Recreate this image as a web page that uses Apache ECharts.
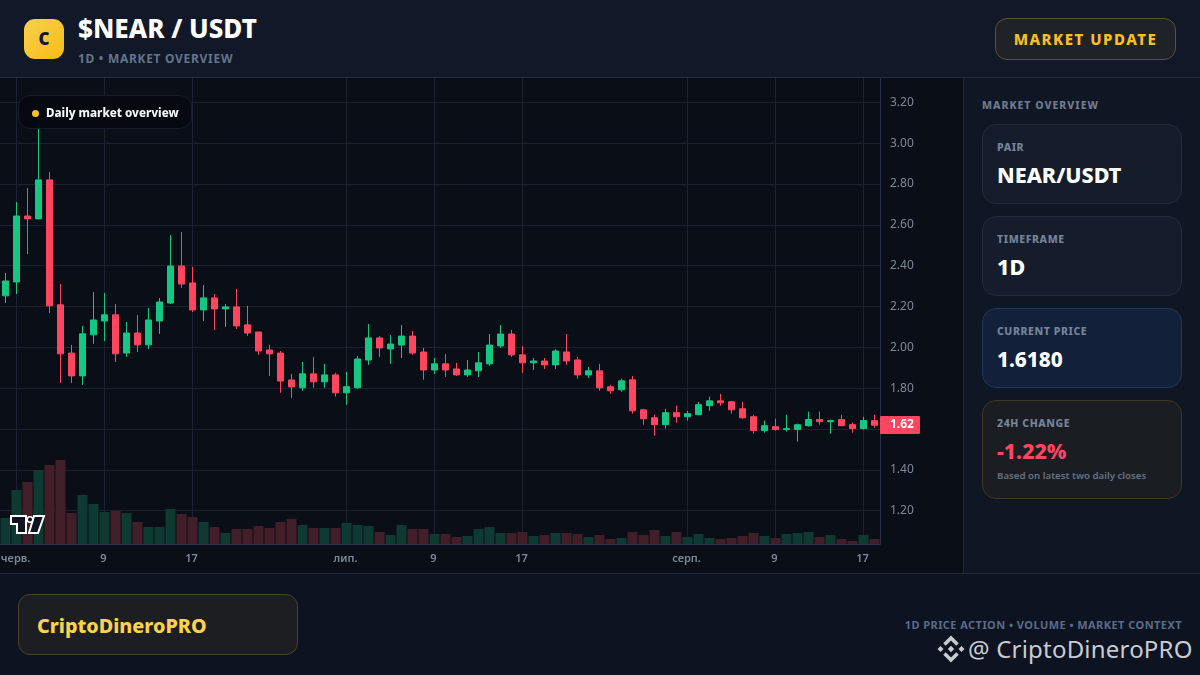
<!DOCTYPE html>
<html>
<head>
<meta charset="utf-8">
<script src="https://cdn.jsdelivr.net/npm/echarts@6/dist/echarts.min.js"></script>
<style>
*{box-sizing:border-box;margin:0;padding:0}
html,body{width:1200px;height:675px;overflow:hidden;background:#0d1320;font-family:"Noto Sans",sans-serif}
.abs{position:absolute;white-space:nowrap}
#header{left:0;top:0;width:1200px;height:78px;background:#111827;border-bottom:1px solid #222c3d}
#logo{left:24px;top:19px;width:40px;height:40px;border-radius:11px;background:linear-gradient(135deg,#f8cf50,#f7bd14);color:#111827;font-weight:900;font-size:17px;line-height:40px;text-align:center}
#title{left:78px;top:10px;font-size:26px;line-height:36px;font-weight:800;color:#fff}
#sub{left:78px;top:50px;font-size:12px;line-height:18px;font-weight:700;color:#64748b;letter-spacing:.7px}
#btn{left:995px;top:18px;width:181px;height:42px;border-radius:12px;background:#1f2227;border:1px solid #5f5230;color:#fbbf24;font-size:15px;font-weight:800;letter-spacing:1.5px;line-height:40px;text-align:center}
#plotbg{left:0;top:78px;width:963px;height:495px;background:#0a0e17}
#chart{left:0;top:78px;width:963px;height:495px}
#side{left:963px;top:78px;width:237px;height:495px;background:#0f1624;border-left:1px solid #1d2635}
#footer{left:0;top:573px;width:1200px;height:102px;background:#0d1320;border-top:1px solid #222c3d}
#legend{left:18px;top:95px;width:174px;height:34px;border-radius:12px;background:rgba(6,9,16,.92);border:1px solid #181f2c}
#dot{left:32px;top:110px;width:7px;height:7px;border-radius:50%;background:#fbbf24}
#legtxt{left:46px;top:104px;font-size:11.6px;line-height:18px;font-weight:800;color:#f3f5f8}
#sidehead{left:982px;top:98px;font-size:10.5px;line-height:14px;font-weight:800;letter-spacing:1px;color:#6f7c90}
.card{position:absolute;left:982px;width:200px;border-radius:14px;background:#151d2c;border:1px solid #212c3e}
.lab{position:absolute;left:997px;font-size:10.5px;line-height:14px;font-weight:800;letter-spacing:.6px;color:#77849a;white-space:nowrap}
.val{position:absolute;left:997px;font-size:21.5px;line-height:30px;font-weight:800;color:#fff;white-space:nowrap}
#badge{left:18px;top:594px;width:280px;height:61px;border-radius:12px;background:#1c1e22;border:1px solid #4c4227;color:#fcd34d;font-size:19.75px;font-weight:800;line-height:61px;padding-left:18px}
#foot{right:18px;top:617px;font-size:11px;line-height:16px;font-weight:700;letter-spacing:.44px;color:#5b6c8a}
#wm{left:968px;top:631px;font-size:24px;line-height:36px;color:#c8ccd2;letter-spacing:.2px}
</style>
</head>
<body>
<div class="abs" id="header"></div>
<div class="abs" id="logo">C</div>
<div class="abs" id="title">$NEAR / USDT</div>
<div class="abs" id="sub">1D • MARKET OVERVIEW</div>
<div class="abs" id="btn">MARKET UPDATE</div>
<div class="abs" id="plotbg"></div>
<div class="abs" id="chart"></div>
<div class="abs" id="legend"></div>
<div class="abs" id="dot"></div>
<div class="abs" id="legtxt">Daily market overview</div>
<svg class="abs" style="left:9px;top:514px" width="37" height="22" viewBox="0 0 37 22">
<path d="M2 2 H17 V19 H8 V10 H2 Z" fill="#0d1320" stroke="#fff" stroke-width="2"/>
<path d="M25 2 H35 L29 19 H20 Z" fill="#0d1320" stroke="#fff" stroke-width="2"/>
<circle cx="21" cy="5.500" r="2.800" fill="#0d1320" stroke="#fff" stroke-width="1.600"/>
</svg>
<div class="abs" id="side"></div>
<div class="abs" id="sidehead">MARKET OVERVIEW</div>
<div class="card" style="top:124px;height:80px"></div>
<div class="lab" style="top:140px">PAIR</div>
<div class="val" style="top:160px">NEAR/USDT</div>
<div class="card" style="top:216px;height:80px"></div>
<div class="lab" style="top:232px">TIMEFRAME</div>
<div class="val" style="top:252px">1D</div>
<div class="card" style="top:308px;height:80px;background:#13203a;border-color:#1f3a60"></div>
<div class="lab" style="top:324px">CURRENT PRICE</div>
<div class="val" style="top:344px;font-size:20.700px">1.6180</div>
<div class="card" style="top:400px;height:99px;background:#1a1d22;border-color:#43371d"></div>
<div class="lab" style="top:416px">24H CHANGE</div>
<div class="val" style="top:436px;color:#ff4560;font-size:21.300px">-1.22%</div>
<div class="abs" style="left:997px;top:469px;font-size:9.700px;line-height:14px;font-weight:600;color:#667286">Based on latest two daily closes</div>
<div class="abs" id="footer"></div>
<div class="abs" id="badge">CriptoDineroPRO</div>
<div class="abs" id="foot">1D PRICE ACTION • VOLUME • MARKET CONTEXT</div>
<svg class="abs" style="left:937px;top:635px" width="28" height="28" viewBox="0 0 28 28" fill="#c8ccd2">
<path d="M7.5 9.500 L14 3 L20.500 9.500" fill="none" stroke="#c8ccd2" stroke-width="3.600"/>
<path d="M7.500 18.500 L14 25 L20.500 18.500" fill="none" stroke="#c8ccd2" stroke-width="3.600"/>
<path d="M3.500 11 L6.500 14 L3.500 17 L0.500 14 Z"/>
<path d="M24.500 11 L27.500 14 L24.500 17 L21.500 14 Z"/>
<path d="M14 10.800 L17.200 14 L14 17.200 L10.800 14 Z"/>
</svg>
<div class="abs" id="wm">@ CriptoDineroPRO</div>
<script>
var tickLabels = {"06-01":"черв.","06-09":"9","06-17":"17","07-01":"лип.","07-09":"9","07-17":"17","08-01":"серп.","08-09":"9","08-17":"17"};
var monthLengths = [["05",31,31],["06",1,30],["07",1,31],["08",1,18]];
var categories = [];
monthLengths.forEach(function(m){for(var d=m[1];d<=m[2];d++){categories.push(m[0]+"-"+(d<10?"0":"")+d);}});

var opens = [2.252,2.320,2.643,2.629,2.820,2.208,1.972,1.860,2.061,2.129,2.159,1.972,2.070,2.012,2.129,2.217,2.398,2.315,2.183,2.242,2.188,2.198,2.110,2.075,1.987,1.972,1.840,1.802,1.870,1.831,1.865,1.777,1.802,1.938,2.046,1.992,2.011,2.055,1.977,1.889,1.919,1.894,1.865,1.885,1.919,2.007,2.065,1.963,1.924,1.933,1.914,1.977,1.938,1.865,1.885,1.807,1.792,1.841,1.694,1.655,1.621,1.680,1.660,1.670,1.714,1.738,1.733,1.699,1.660,1.592,1.611,1.597,1.597,1.616,1.646,1.636,1.646,1.621,1.602,1.641];
var closes = [2.325,2.643,2.629,2.820,2.203,1.968,1.860,2.066,2.134,2.159,1.968,2.070,2.012,2.134,2.222,2.398,2.310,2.183,2.242,2.188,2.198,2.105,2.070,1.982,1.968,1.835,1.806,1.870,1.831,1.865,1.777,1.807,1.943,2.046,1.997,2.016,2.055,1.972,1.889,1.919,1.889,1.865,1.889,1.924,2.011,2.065,1.963,1.924,1.933,1.914,1.982,1.933,1.865,1.885,1.802,1.787,1.836,1.689,1.650,1.621,1.680,1.660,1.675,1.719,1.738,1.728,1.694,1.655,1.592,1.616,1.597,1.602,1.621,1.646,1.636,1.641,1.616,1.602,1.641,1.618];
var lows = [2.217,2.261,2.457,2.629,2.168,1.826,1.826,1.816,2.017,2.031,1.928,1.953,1.977,1.992,2.066,2.212,2.291,2.173,2.129,2.085,2.100,2.090,2.056,1.963,1.860,1.777,1.752,1.787,1.802,1.802,1.758,1.719,1.797,1.914,1.953,1.919,1.948,1.963,1.841,1.870,1.855,1.860,1.855,1.855,1.909,1.997,1.953,1.875,1.889,1.894,1.894,1.914,1.846,1.850,1.787,1.772,1.782,1.675,1.621,1.567,1.602,1.631,1.641,1.670,1.689,1.714,1.675,1.650,1.577,1.582,1.592,1.587,1.538,1.611,1.621,1.577,1.616,1.582,1.597,1.606];
var highs = [2.364,2.712,2.780,3.089,2.859,2.310,2.012,2.105,2.271,2.266,2.212,2.124,2.159,2.193,2.242,2.550,2.565,2.394,2.305,2.261,2.212,2.286,2.203,2.075,2.012,1.982,1.870,1.928,1.953,1.919,1.875,1.880,1.958,2.114,2.055,2.060,2.109,2.080,1.997,1.948,1.967,1.924,1.938,1.977,2.065,2.109,2.085,2.007,1.948,1.948,1.992,2.065,1.953,1.904,1.919,1.816,1.846,1.860,1.699,1.670,1.699,1.714,1.689,1.733,1.758,1.772,1.738,1.733,1.670,1.641,1.650,1.670,1.626,1.685,1.685,1.646,1.670,1.631,1.660,1.670];
var volumes = [26,54,62,74,79,84,31,49,40,32,33,31,22,17,17,35,30,27,22,17,11,15,15,18,16,22,25,19,16,16,16,21,19,18,12,9,19,15,15,10,10,7,8,15,17,11,11,12,8,9,11,11,10,7,9,5,6,12,9,14,8,12,7,10,6,5,6,8,11,8,6,10,11,12,7,9,5,3,9,5];
var lastPrice = 1.618;
var lastPriceLabel = "1.62";

var UP = "#16c784", DOWN = "#ff4560";
var GRID = "#1a2130", AXIS = "#2a3347", TICK = "#7d899b";
var isTick = function(i, v){ return tickLabels[v] !== undefined; };
var chart = echarts.init(document.getElementById("chart"));
chart.setOption({
  animation:false,
  backgroundColor:"transparent",
  grid:[
    {left:0, top:0, width:880, height:466, outerBoundsMode:"none"},
    {left:0, top:0, width:880, height:473.5, outerBoundsMode:"none"}
  ],
  xAxis:[
    {type:"category", gridIndex:0, data:categories, boundaryGap:true,
     axisLine:{show:true, lineStyle:{color:AXIS}},
     axisTick:{show:false, alignWithLabel:true, interval:isTick},
     splitLine:{show:true, alignWithLabel:true, interval:isTick, lineStyle:{color:GRID}},
     axisLabel:{interval:isTick, color:TICK, fontSize:11, fontWeight:600, margin:9, fontFamily:"Noto Sans", padding:[0,2,0,0],
       formatter:function(v){return tickLabels[v]||"";}}},
    {type:"category", gridIndex:1, data:categories, boundaryGap:true,
     axisLine:{show:false}, axisTick:{show:false}, axisLabel:{show:false}, splitLine:{show:false}}
  ],
  yAxis:[
    {type:"value", gridIndex:0, position:"right", min:0, max:466,
     axisLine:{show:true, onZero:false, lineStyle:{color:AXIS}}, axisTick:{show:false},
     axisLabel:{show:false}, splitLine:{show:false}},
    {type:"value", gridIndex:1, position:"right", min:1.0, max:3.319, interval:0.2,
     axisLine:{show:false}, axisTick:{show:false},
     splitLine:{show:true, showMinLine:false, showMaxLine:false, lineStyle:{color:GRID}},
     axisLabel:{color:TICK, fontSize:12, margin:10, showMinLabel:false, showMaxLabel:false, fontFamily:"Noto Sans",
       formatter:function(v){return v.toFixed(2);}}}
  ],
  series:[
    {type:"bar", name:"Volume", xAxisIndex:0, yAxisIndex:0, barWidth:10, z:2,
     data:volumes.map(function(v,i){
       return {value:v, itemStyle:{color:closes[i]>=opens[i]?"#0f3a31":"#411e28"}};
     })},
    {type:"candlestick", name:"NEAR/USDT", xAxisIndex:1, yAxisIndex:1, barWidth:6, z:5,
     itemStyle:{color:UP, color0:DOWN, borderColor:UP, borderColor0:DOWN, borderWidth:1},
     data:opens.map(function(o,i){return [o,closes[i],lows[i],highs[i]];}),
     markLine:{silent:true, symbol:"none", animation:false, z:20,
       lineStyle:{color:"rgba(0,0,0,0)", width:1},
       label:{show:true, position:"end", distance:0, formatter:lastPriceLabel, color:"#fff", fontWeight:700, fontSize:12,
         fontFamily:"Noto Sans", backgroundColor:DOWN, padding:[2,6,4,10], borderRadius:1},
       data:[{yAxis:lastPrice}]}}
  ]
});
</script>
</body>
</html>
